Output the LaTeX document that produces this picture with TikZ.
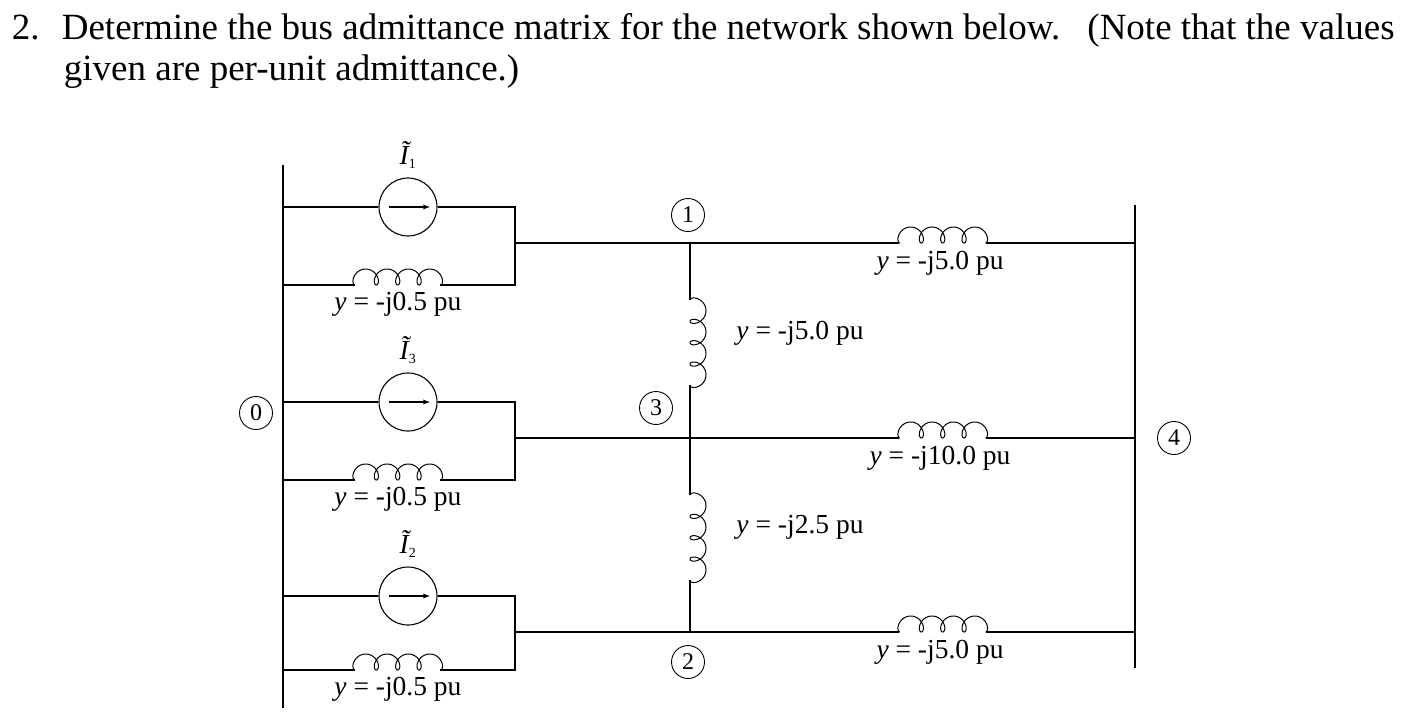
\documentclass[tikz,border=0pt]{standalone}
\usepackage{fontspec}
\setmainfont{Liberation Serif}
\begin{document}
\begin{tikzpicture}[x=1pt,y=-1pt,line width=1.1pt,
  bus/.style={circle,draw,line width=0.9pt,minimum size=33pt,inner sep=0pt,font=\fontsize{24}{26}\selectfont},
  src/.style={circle,draw,line width=1.1pt,minimum size=58pt,inner sep=0pt},
  lbl/.style={font=\fontsize{27.5}{30}\selectfont},
  ttl/.style={font=\fontsize{37}{42}\selectfont,anchor=west}]
\useasboundingbox (0,0) rectangle (1426,724);
\node[ttl] (t1) at (8,30) {2.\hspace{0.6em}Determine the bus admittance matrix for the network shown below.\hspace{0.4em} (Note that the values};
\node[ttl] (t2) at (60,72) {given are per-unit admittance.)};
% left bus
\coordinate (L0) at (283,165); \coordinate (L1) at (283,708);
\draw (L0) -- (L1);
\coordinate (R0) at (1135,205); \coordinate (R1) at (1135,668);
\draw (R0) -- (R1);
\node[bus] (n0) at (256,413) {0};
\node[bus] (n4) at (1174,438) {4};
% branch groups
\foreach \ys/\yi/\yb/\sub/\nm in {207/285/243/1/a,402/480/438/3/b,596/670/632/2/c}{
  \node[src] (s\nm) at (408,\ys) {};
  \draw[-latex,line width=1.3pt] (389,\ys) -- (430,\ys);
  \node[lbl] at (408,\ys-52) {\itshape\~{I}\textsubscript{\upshape\fontsize{14}{14}\selectfont\sub}};
  \draw (283,\ys) -- (s\nm.west);
  \draw (s\nm.east) -- (515,\ys) -- (515,\yi) -- (440,\yi);
  \draw (283,\yi) -- (355,\yi);
  \draw[line width=1pt] plot[domain=0:8*pi,samples=240,variable=\t] ({355+3.4*\t-6.5*sin(\t r)},{\yi-8*(1-cos(\t r))});
  \node[lbl] at (398,\yi+19) {\textit{y} = -j0.5 pu};
  \draw (515,\yb) -- (1135,\yb);
}
% horizontal line coils on bus lines
\foreach \yb/\txt in {243/-j5.0,438/-j10.0,632/-j5.0}{
  \fill[white] (899,\yb-1.5) rectangle (986,\yb+1.5);
  \draw[line width=1pt] plot[domain=0:8*pi,samples=240,variable=\t] ({900+3.4*\t-6.5*sin(\t r)},{\yb-8*(1-cos(\t r))});
  \node[lbl] at (940,\yb+20) {\textit{y} = \txt{} pu};
}
% vertical branch
\draw (690,243) -- (690,300);
\draw[line width=1pt] plot[domain=0:8*pi,samples=240,variable=\t] ({690+8*(1-cos(\t r))},{300+3.4*\t-6.5*sin(\t r)});
\draw (690,385) -- (690,495);
\draw[line width=1pt] plot[domain=0:8*pi,samples=240,variable=\t] ({690+8*(1-cos(\t r))},{495+3.4*\t-6.5*sin(\t r)});
\draw (690,580) -- (690,632);
\node[lbl] at (800,333) {\textit{y} = -j5.0 pu};
\node[lbl] at (800,527) {\textit{y} = -j2.5 pu};
\node[bus] (n1) at (688,215) {1};
\node[bus] (n3) at (656,408) {3};
\node[bus] (n2) at (688,662) {2};
\end{tikzpicture}
\end{document}
